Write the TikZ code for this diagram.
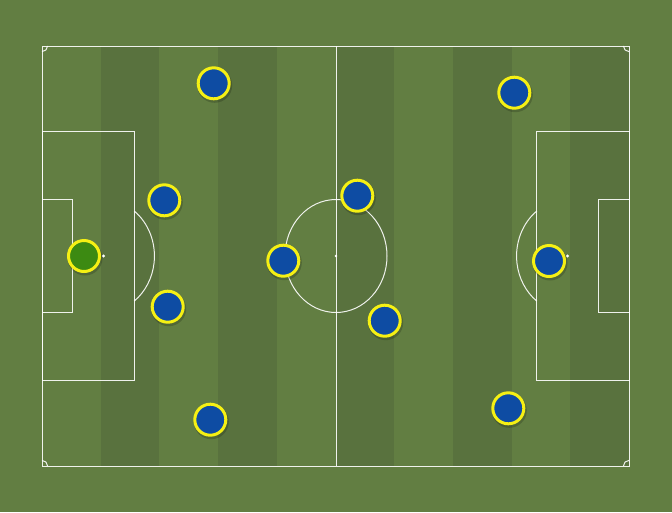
\documentclass[tikz,border=0pt]{standalone}
\definecolor{grassL}{RGB}{98,126,66}
\definecolor{grassD}{RGB}{89,114,62}
\definecolor{kitY}{RGB}{245,240,20}
\definecolor{kitB}{RGB}{14,76,163}
\definecolor{kitG}{RGB}{60,138,18}
\tikzset{
  pline/.style={draw=white, draw opacity=0.9, line width=1pt},
  player/.style={circle, minimum size=31pt, inner sep=0pt, draw=kitY, line width=3pt, fill=kitB},
  keeper/.style={player, fill=kitG},
  spotdot/.style={fill=white, draw=none},
}
\begin{document}
\begin{tikzpicture}[x=1pt,y=-1pt]
\useasboundingbox (0,0) rectangle (672,512);
\fill[grassL] (0,0) rectangle (672,512);
% stripes
\foreach \i in {1,3,5,7,9} {
  \fill[grassD] ({42+\i*58.7},46) rectangle ({42+(\i+1)*58.7},466);
}
% outline
\draw[pline] (42,46) rectangle (629,466);
\draw[pline] (336,46) -- (336,466);
% center circle
\draw[pline] (336,256) ellipse [x radius=51, y radius=56.5];
\fill[spotdot] (336,256) circle (1.3);
% left box
\draw[pline] (42,131.5) rectangle (134.2,380.5);
\draw[pline] (42,199.5) rectangle (72.7,312.5);
\fill[spotdot] (103.5,256) circle (1.6);
\draw[pline] (134.2,211) arc[start angle=-52.9, end angle=52.9, x radius=51, y radius=56.5];
% right box
\draw[pline] (629,131.5) rectangle (536.8,380.5);
\draw[pline] (629,199.5) rectangle (598.3,312.5);
\fill[spotdot] (567.5,256) circle (1.6);
\draw[pline] (536.8,211) arc[start angle=232.9, end angle=127.1, x radius=51, y radius=56.5];
% corner arcs
\draw[pline] (47.6,46) arc[start angle=0, end angle=90, radius=5.6];
\draw[pline] (623.4,46) arc[start angle=180, end angle=90, radius=5.6];
\draw[pline] (47.6,466) arc[start angle=0, end angle=-90, radius=5.6];
\draw[pline] (623.4,466) arc[start angle=180, end angle=270, radius=5.6];
% shadows
\foreach \px/\py in {84/256,213.7/83.3,164.3/200.3,167.7/306.7,210.3/419.7,283.3/260.7,357.3/195.7,384.7/320.7,514.3/92.7,549/261,508.3/408.3} {
  \fill[black, opacity=0.18] (\px+1,\py+2) circle (17.5);
}
% players
\node[keeper] (gk) at (84,256) {};
\node[player] (p2) at (213.7,83.3) {};
\node[player] (p3) at (164.3,200.3) {};
\node[player] (p4) at (167.7,306.7) {};
\node[player] (p5) at (210.3,419.7) {};
\node[player] (p6) at (283.3,260.7) {};
\node[player] (p7) at (357.3,195.7) {};
\node[player] (p8) at (384.7,320.7) {};
\node[player] (p9) at (514.3,92.7) {};
\node[player] (p10) at (549,261) {};
\node[player] (p11) at (508.3,408.3) {};
\end{tikzpicture}
\end{document}
